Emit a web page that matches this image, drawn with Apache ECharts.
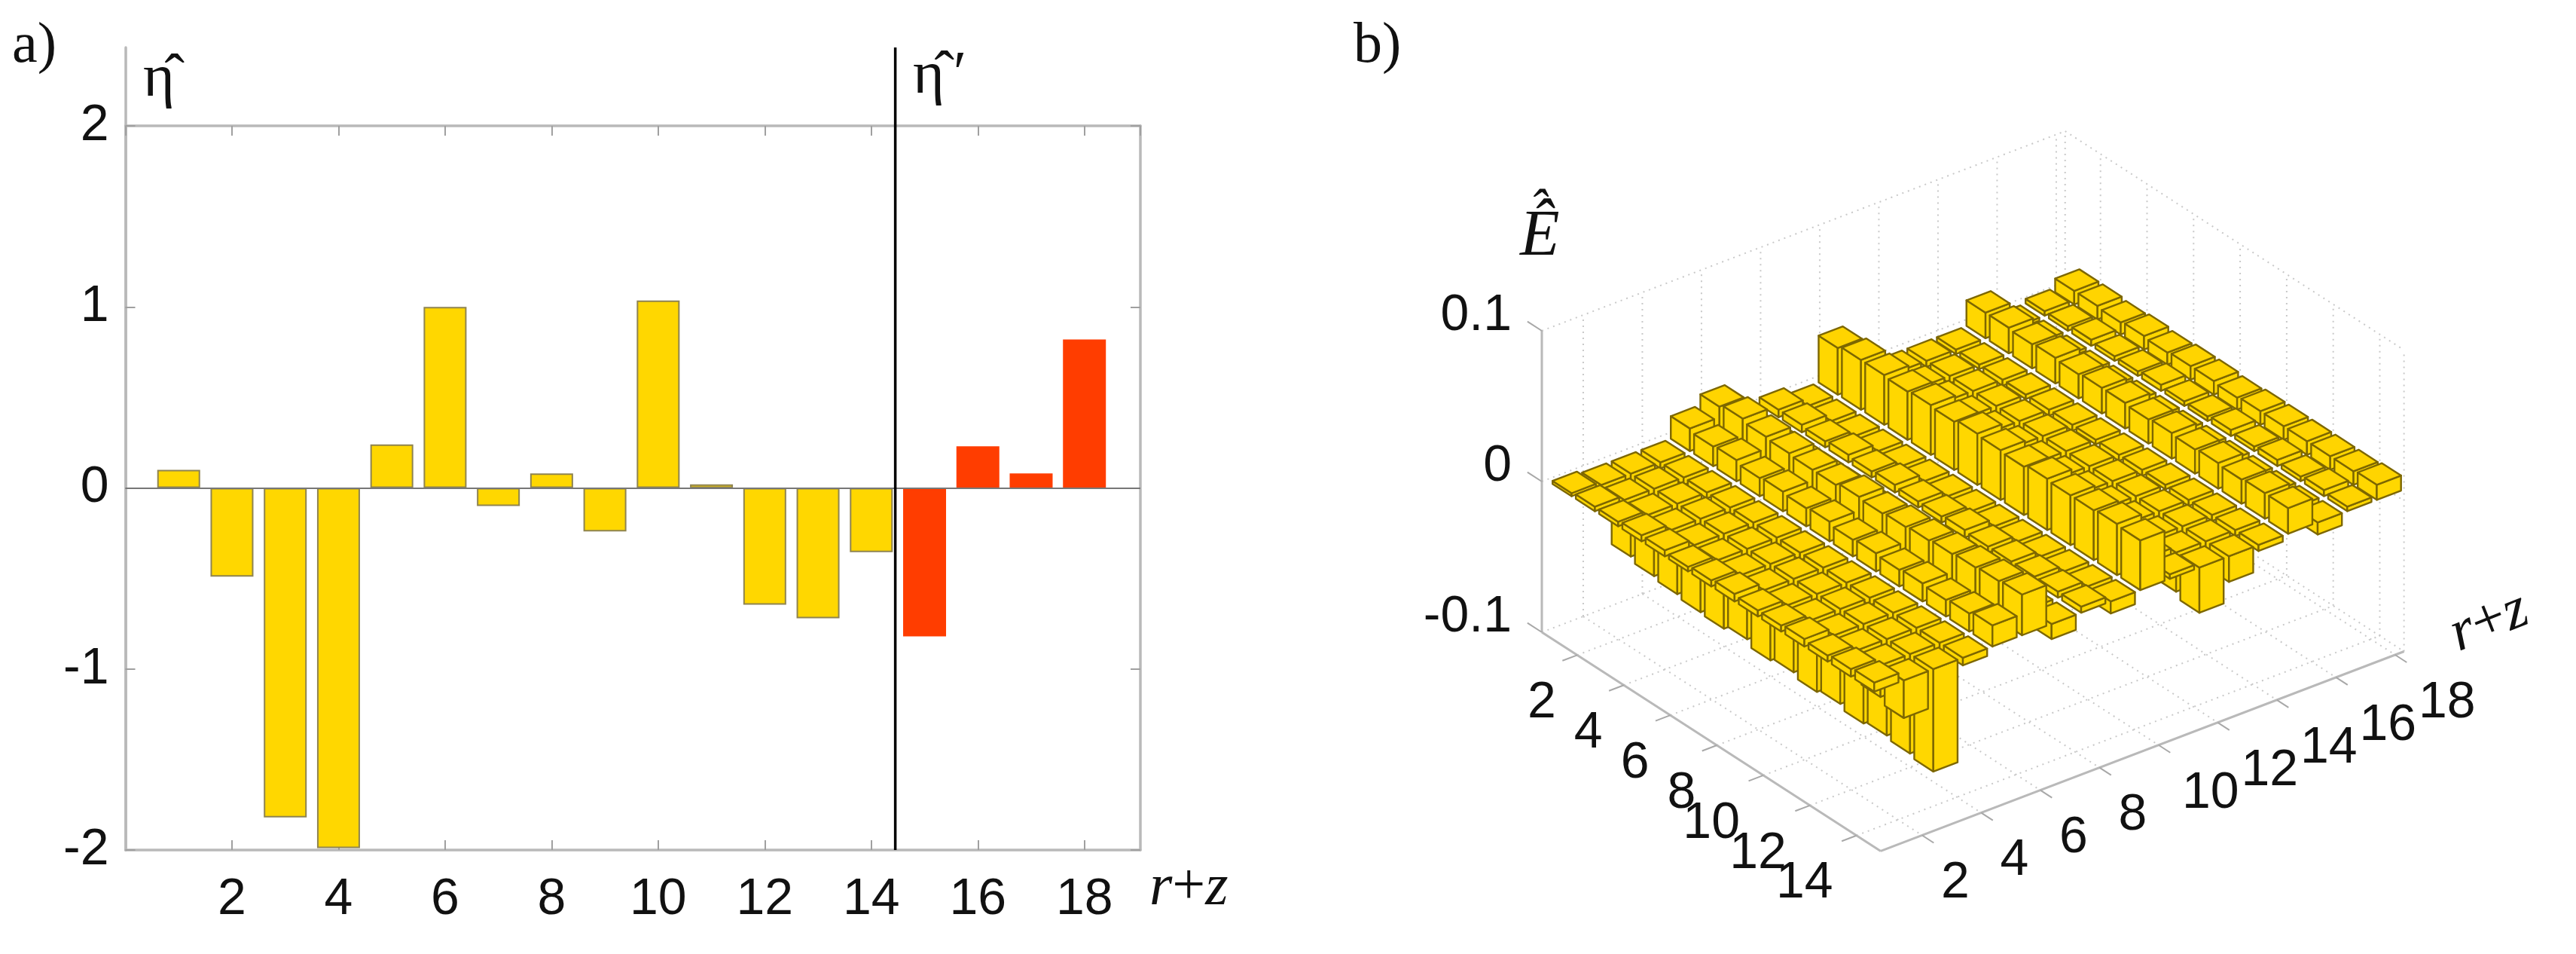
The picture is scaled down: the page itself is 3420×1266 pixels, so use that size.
<!DOCTYPE html>
<html><head><meta charset="utf-8">
<style>html,body{margin:0;padding:0;background:#fff}#c{width:3420px;height:1266px}</style>
<script src="https://cdn.jsdelivr.net/npm/echarts@6/dist/echarts.min.js"></script>
</head><body><div id="c"></div>
<script>
// ---- data: panel a
const etaX = [1,2,3,4,5,6,7,8,9,10,11,12,13,14];
const etaValues = [0.10,-0.49,-1.82,-1.99,0.24,1.00,-0.10,0.08,-0.24,1.035,0.02,-0.645,-0.72,-0.355];
const etaPrimeX = [15,16,17,18];
const etaPrimeValues = [-0.82,0.23,0.08,0.82];
const dividerX = 14.45;
// ---- data: panel b, one list per r+z column, values for index 1..14
const rz1  = [.002,.003,.003,.004,.004,.003,.004,.005,.004,.004,.005,.004,.005,.006];
const rz2  = [-.003,-.004,-.005,-.006,-.008,-.009,-.010,-.011,-.012,-.014,-.016,-.018,-.021,-.025];
const rz3  = [-.055,-.058,-.060,-.062,-.063,-.060,-.064,-.062,-.065,-.063,-.066,-.064,-.066,-.068];
const rz4  = [-.004,-.005,-.004,-.005,-.005,-.006,-.005,-.007,-.006,-.005,-.007,-.006,-.006,-.005];
const rz5  = [.015,.013,.014,.012,.013,.012,.013,.011,.012,.011,.012,.011,.012,.014];
const rz6  = [.022,.024,.022,.021,.020,.020,.022,.021,.022,.023,.024,.025,.026,.027];
const rz7  = [-.004,-.005,-.006,-.005,-.006,-.007,-.006,-.007,-.008,-.007,-.008,-.009,-.009,-.010];
const rz8  = [.005,.005,.004,.005,.004,.005,.004,.004,.005,.004,.004,.004,.004,.004];
const rz9  = [-.003,-.003,-.004,-.004,-.004,-.005,-.005,-.006,-.005,-.006,-.007,-.006,-.007,-.008];
const rz10 = [.031,.033,.033,.032,.033,.032,.034,.033,.032,.034,.033,.033,.034,.033];
const rz11 = [.004,.003,.004,.003,.004,.004,.003,.004,.004,.003,.004,.003,.004,.003];
const rz12 = [-.006,-.008,-.010,-.011,-.012,-.014,-.015,-.016,-.018,-.019,-.021,-.023,-.026,-.030];
const rz13 = [-.004,-.005,-.006,-.007,-.008,-.008,-.009,-.010,-.011,-.012,-.013,-.014,-.015,-.017];
const rz14 = [-.003,-.003,-.004,-.003,-.004,-.004,-.003,-.004,-.004,-.003,-.004,-.004,-.004,-.004];
const rz15 = [.017,.017,.016,.017,.016,.017,.017,.016,.017,.016,.017,.016,.017,.017];
const rz16 = [-.002,-.002,-.002,-.003,-.002,-.003,-.003,-.003,-.004,-.004,-.005,-.005,-.006,-.008];
const rz17 = [.003,.003,.004,.003,.003,.004,.003,.003,.004,.003,.004,.003,.004,.003];
const rz18 = [.009,.009,.008,.009,.008,.009,.009,.008,.009,.009,.009,.009,.009,.010];
const columns = [rz1,rz2,rz3,rz4,rz5,rz6,rz7,rz8,rz9,rz10,rz11,rz12,rz13,rz14,rz15,rz16,rz17,rz18];
const zTicks = [-0.1,0,0.1];
const rzTicks = [2,4,6,8,10,12,14,16,18];
const rowTicks = [2,4,6,8,10,12,14];

// ---- layout of the oblique view of panel b (view units, measured from the left floor corner)
const VIEW = {left:2047, bottom:1130, width:1145, height:960.5, ox:0, oy:291,
  iVec:[39.25,14.97], jVec:[30.9,-19.95], zPer:2000,
  iMin:.6,iMax:18.3,jMin:.48,jMax:15.04,zMin:-.1,zMax:.1, half:.41, barShift:.16};
function proj(i,j,z){
  const di=i-VIEW.iMin, dj=j-VIEW.jMin;
  return [VIEW.ox+di*VIEW.iVec[0]+dj*VIEW.jVec[0],
          VIEW.oy+di*VIEW.iVec[1]+dj*VIEW.jVec[1]+(z-VIEW.zMin)*VIEW.zPer];
}
const barData=[];
for(let i=18;i>=1;i--){for(let j=1;j<=14;j++){barData.push([i,j,columns[i-1][j-1]]);}}

const GOLD='#FFD700', RED='#FF3D00', AXIS='#b9b9b9', EDGE='#7d6700';
const sans='"Liberation Sans"', serif='"Liberation Serif"';

function line(api,a,b,style){
  const p=api.coord(a),q=api.coord(b);
  return {type:'line',shape:{x1:p[0],y1:p[1],x2:q[0],y2:q[1]},style:style};
}
function renderWalls(params,api){
  const V=VIEW, d={stroke:'#c9c9c9',lineWidth:2,lineDash:[2,6]}, ch=[];
  const I=rzTicks, J=rowTicks;
  I.concat([V.iMax]).forEach(i=>ch.push(line(api,proj(i,V.jMin,V.zMin),proj(i,V.jMin,V.zMax),d)));
  J.concat([V.jMax]).forEach(j=>ch.push(line(api,proj(V.iMax,j,V.zMin),proj(V.iMax,j,V.zMax),d)));
  zTicks.forEach(z=>{
    ch.push(line(api,proj(V.iMin,V.jMin,z),proj(V.iMax,V.jMin,z),d));
    ch.push(line(api,proj(V.iMax,V.jMin,z),proj(V.iMax,V.jMax,z),d));
  });
  I.forEach(i=>ch.push(line(api,proj(i,V.jMin,V.zMin),proj(i,V.jMax,V.zMin),d)));
  J.forEach(j=>ch.push(line(api,proj(V.iMin,j,V.zMin),proj(V.iMax,j,V.zMin),d)));
  return {type:'group',children:ch};
}
function renderAxes(params,api){
  const V=VIEW, s={stroke:AXIS,lineWidth:3}, t={stroke:'#a8a8a8',lineWidth:2}, ch=[];
  const tick=.5;
  ch.push(line(api,proj(V.iMin,V.jMin,V.zMin),proj(V.iMin,V.jMin,V.zMax),s));
  ch.push(line(api,proj(V.iMin,V.jMin,V.zMin),proj(V.iMin,V.jMax,V.zMin),s));
  ch.push(line(api,proj(V.iMin,V.jMax,V.zMin),proj(V.iMax,V.jMax,V.zMin),s));
  zTicks.forEach(z=>ch.push(line(api,proj(V.iMin,V.jMin,z),proj(V.iMin,V.jMin-.62,z),t)));
  rowTicks.forEach(j=>ch.push(line(api,proj(V.iMin,j,V.zMin),proj(V.iMin-tick,j,V.zMin),t)));
  rzTicks.forEach(i=>ch.push(line(api,proj(i,V.jMax,V.zMin),proj(i,V.jMax+tick,V.zMin),t)));
  const font='68px '+sans;
  const label=(txt,c,dx,dy,align)=>{const p=api.coord(c);
    return {type:'text',style:{text:txt,x:p[0]+dx,y:p[1]+dy,font:font,fill:'#111',align:align||'center',verticalAlign:'middle'}};};
  rowTicks.forEach(j=>ch.push(label(String(j),proj(V.iMin,j,V.zMin),j<10?-47:-69,64)));
  rzTicks.forEach(i=>ch.push(label(String(i),proj(i,V.jMax,V.zMin),i<10?44:69,64)));
  zTicks.forEach(z=>ch.push(label(String(z),proj(V.iMin,V.jMin,z),-40,-20,'right')));
  return {type:'group',children:ch};
}
function renderBar(params,api){
  const V=VIEW, i=api.value(0)+V.barShift, j=api.value(1)+V.barShift, v=api.value(2), h=V.half;
  const hi=Math.max(0,v), lo=Math.min(0,v);
  const pts=(arr)=>arr.map(a=>api.coord(proj(a[0],a[1],a[2])));
  const A=i-h,B=i+h,C=j-h,D=j+h;
  const side={fill:GOLD,stroke:EDGE,lineWidth:2.4,lineJoin:'round'};
  const top={fill:'#FFD400',stroke:EDGE,lineWidth:2.4,lineJoin:'round'};
  return {type:'group',children:[
    {type:'polygon',shape:{points:pts([[A,C,hi],[A,D,hi],[A,D,lo],[A,C,lo]])},style:side},
    {type:'polygon',shape:{points:pts([[A,D,hi],[B,D,hi],[B,D,lo],[A,D,lo]])},style:side},
    {type:'polygon',shape:{points:pts([[A,C,hi],[B,C,hi],[B,D,hi],[A,D,hi]])},style:top}
  ]};
}

const chart=echarts.init(document.getElementById('c'),null,{width:3420,height:1266});
const frameLine={show:true,onZero:false,lineStyle:{color:AXIS,width:3.5}};
const innerTick={show:true,inside:true,length:13,lineStyle:{color:'#a0a0a0',width:2}};
const barBorder={color:GOLD,borderColor:'#8f8450',borderWidth:2};
chart.setOption({
  animation:false,backgroundColor:'#fff',
  grid:[
    {left:166.5,right:1906,top:167,bottom:138},
    {left:166.5,right:1906,top:63,bottom:138},
    {left:VIEW.left,top:VIEW.bottom-VIEW.height,width:VIEW.width,height:VIEW.height}
  ],
  xAxis:[
    {type:'value',gridIndex:0,min:0,max:19.05,interval:2,position:'bottom',axisLine:frameLine,axisTick:innerTick,splitLine:{show:false},
     axisLabel:{show:true,showMinLabel:false,showMaxLabel:false,margin:32,color:'#111',fontFamily:sans,fontSize:68}},
    {type:'value',gridIndex:0,min:0,max:19.05,interval:2,position:'top',axisLine:frameLine,axisTick:innerTick,splitLine:{show:false},axisLabel:{show:false}},
    {type:'value',gridIndex:1,min:0,max:19.05,show:false},
    {type:'value',gridIndex:2,min:0,max:VIEW.width,show:false}
  ],
  yAxis:[
    {type:'value',gridIndex:0,min:-2,max:2,interval:1,position:'left',axisLine:frameLine,axisTick:innerTick,splitLine:{show:false},
     axisLabel:{margin:22,color:'#111',fontFamily:sans,fontSize:68}},
    {type:'value',gridIndex:0,min:-2,max:2,interval:1,position:'right',axisLine:frameLine,axisTick:innerTick,splitLine:{show:false},axisLabel:{show:false}},
    {type:'value',gridIndex:1,min:0,max:1,position:'left',axisLine:frameLine,axisTick:{show:false},axisLabel:{show:false},splitLine:{show:false}},
    {type:'value',gridIndex:2,min:0,max:VIEW.height,show:false}
  ],
  series:[
    {type:'bar',xAxisIndex:0,yAxisIndex:0,barWidth:57,barGap:'-100%',itemStyle:barBorder,
     data:etaX.map((x,k)=>[x,etaValues[k]])},
    {type:'bar',xAxisIndex:0,yAxisIndex:0,barWidth:57,barGap:'-100%',itemStyle:{color:RED},
     data:etaPrimeX.map((x,k)=>[x,etaPrimeValues[k]]),
     markLine:{silent:true,symbol:'none',label:{show:false},lineStyle:{color:'#777',width:2,type:'solid'},data:[{yAxis:0}],z:9}},
    {type:'line',xAxisIndex:2,yAxisIndex:2,symbol:'none',lineStyle:{color:'#000',width:3.5},z:10,
     data:[[dividerX,0],[dividerX,1]]},
    {type:'custom',xAxisIndex:3,yAxisIndex:3,clip:false,z:1,data:[[0,0]],renderItem:renderWalls},
    {type:'custom',xAxisIndex:3,yAxisIndex:3,clip:false,z:2,data:[[0,0]],renderItem:renderAxes},
    {type:'custom',xAxisIndex:3,yAxisIndex:3,clip:false,z:3,data:barData,renderItem:renderBar,
     encode:{x:0,y:1}}
  ],
  graphic:[
    {type:'text',z:20,style:{text:'a)',x:16,y:24,font:'76px '+serif,fill:'#111'}},
    {type:'text',z:20,style:{text:'b)',x:1797,y:24,font:'76px '+serif,fill:'#111'}},
    {type:'text',z:20,style:{text:'\u03B7\u0302',x:190,y:66,font:'80px '+serif,fill:'#111'}},
    {type:'text',z:20,style:{x:1212,y:62,rich:{e:{font:'80px '+serif,fill:'#111'},p:{font:'80px '+serif,fill:'#111',padding:[0,0,0,12]}},text:'{e|\u03B7\u0302}{p|\u2032}'}},
    {type:'text',z:20,style:{x:1526,y:1140,rich:{i:{font:'italic 78px '+serif,fill:'#111'},n:{font:'78px '+serif,fill:'#111'}},text:'{i|r}{n|+}{i|z}'}},
    {type:'text',z:20,style:{text:'\u00CA',x:2018,y:272,font:'italic 86px '+serif,fill:'#111'}},
    {type:'text',z:20,style:{text:'\u02C6',x:2030,y:246,font:'italic 70px '+serif,fill:'#111'}},
    {type:'text',z:20,x:3305,y:826,rotation:0.38,style:{x:0,y:0,align:'center',verticalAlign:'middle',rich:{i:{font:'italic 78px '+serif,fill:'#111'},n:{font:'78px '+serif,fill:'#111'}},text:'{i|r}{n|+}{i|z}'}}
  ]
});
</script></body></html>
